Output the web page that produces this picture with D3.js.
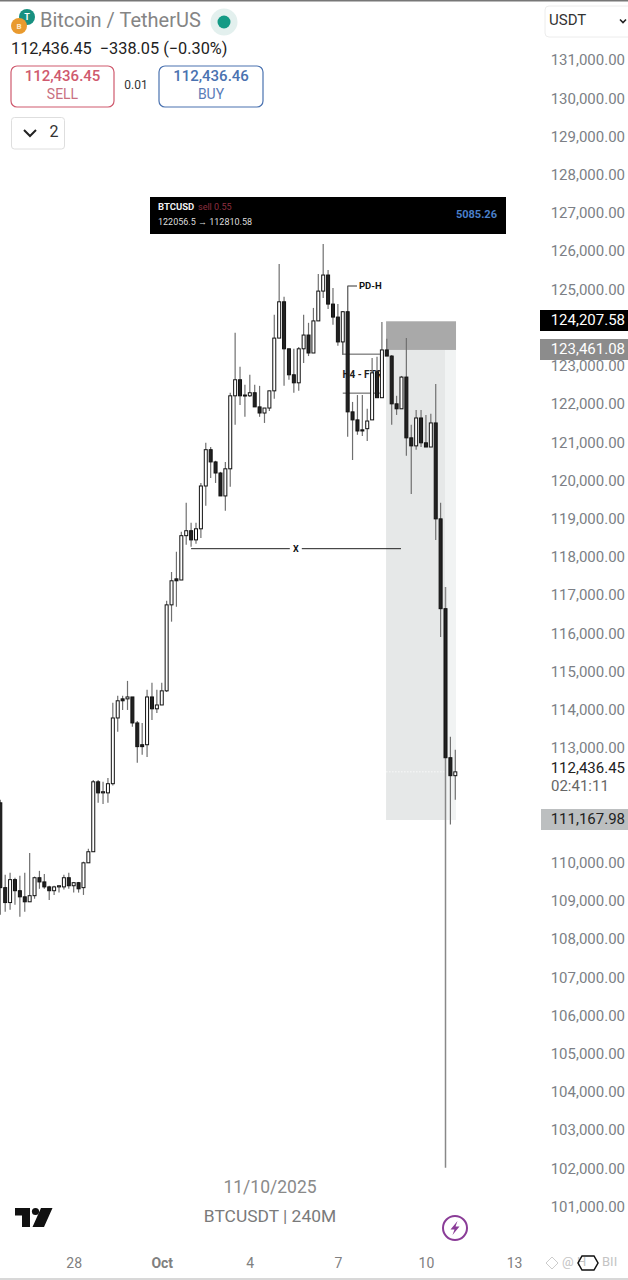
<!DOCTYPE html>
<html><head><meta charset="utf-8">
<script src="https://cdn.jsdelivr.net/npm/d3@7"></script>
<style>html,body{margin:0;padding:0;background:#fff}svg{display:block}text{font-family:Roboto,sans-serif}</style>
</head><body><svg id="c" width="628" height="1280"></svg>
<script>
const opens=[111550,109330,108940,109540,109250,109090,108960,109120,109590,109480,109350,109250,109350,109350,109590,109380,109460,109330,109980,110270,112100,111810,111810,112050,113770,114270,114270,114320,113640,113070,113070,114320,114010,114110,114480,116730,117410,117380,118540,118670,118430,118720,119840,120790,120470,120180,119580,120290,122200,122620,122220,122200,122280,121910,121750,121880,122330,123710,124660,123430,122750,122540,123430,123790,123320,124160,124940,125360,124600,124260,123610,124400,121780,121570,121310,121340,121570,122830,122150,123400,123240,121990,121860,122690,121100,120890,121620,120970,120860,121490,118980,116630,112730,112260];
const highs=[111630,109670,109720,109590,109640,109720,110240,109620,109770,109690,109380,109380,109380,109670,109720,109480,109480,110010,110350,112150,112150,112100,112200,114170,114350,114350,114740,114320,113690,113640,114510,114690,114510,114690,116840,117590,118120,118640,119400,118880,118880,119920,120970,120860,120500,120210,120470,122280,123850,122960,122490,122750,122490,122460,121880,122330,124320,125650,124790,123430,123430,123480,124320,124110,124500,125390,126170,125490,125020,124600,124420,125080,122040,122220,122220,121860,123190,123220,124130,123690,123270,122200,122720,123710,121440,121830,121830,121700,121730,122510,119400,117200,113280,112940];
const lows=[108620,108700,108750,108880,108570,108700,108960,109040,109300,109300,109010,109140,109200,109280,109300,109200,109200,109140,109980,110270,111550,111520,111550,112000,113410,113980,113980,113540,112600,112810,112750,113720,113900,114110,114450,116290,116680,117380,118300,118250,118330,118480,119320,120050,119920,119580,119190,119820,121440,121960,121650,122170,121910,121650,121490,121800,122120,123710,122460,122620,122280,122330,123060,123240,123320,124160,124760,124470,124060,123510,123270,121130,120520,121180,121150,121020,121570,122150,122150,123240,121440,121700,121860,120630,119630,120790,120860,120860,120860,118430,115890,102000,110980,111630];
const closes=[109330,108940,109540,109250,109090,108960,109120,109590,109480,109350,109250,109350,109380,109590,109380,109460,109300,109980,110270,112100,111810,111840,112050,113770,114220,114220,114320,113640,113020,113020,114320,114010,114110,114480,116730,117360,117360,118540,118670,118430,118720,119840,120790,120470,120180,119580,120290,122200,122620,122200,122200,122280,121910,121750,121880,122330,123710,124660,123430,122750,122540,123430,123790,123320,124160,124940,125360,124600,124260,123610,124400,121780,121570,121280,121280,121540,122800,122150,123400,123240,121990,121860,122690,121100,120890,121620,120970,120860,121490,118980,116630,112730,112260,112360];
const hiddenTicks=[111000,112000,124000];
const priceTicks=d3.range(101000,132000,1000).filter(v=>!hiddenTicks.includes(v));
const dateTickIndex=[15,33,51,69,87,105];
const dateTickLabels=["28","Oct","4","7","10","13"];
const zoneTop=124150, zoneEntry=123400, zoneStop=111100, lastPrice=112400, xLevel=118200;
const zoneLabels=["124,207.58","123,461.08","111,167.98"];
const ticker="Bitcoin / TetherUS";
const quote="112,436.45  \u2212338.05 (\u22120.30%)";

const svg=d3.select("#c");
const y=d3.scaleLinear().domain([131000,101000]).range([59.5,1206]);
const x=d3.scaleLinear().domain([0,105]).range([0.3,514]);
const T=(s,px,py,size,fill,anchor,weight)=>svg.append("text").attr("x",px).attr("y",py).attr("font-size",size).attr("fill",fill).attr("text-anchor",anchor||"start").attr("font-weight",weight||400).attr("dominant-baseline","middle").text(s);

// frame lines
svg.append("rect").attr("width",628).attr("height",1.5).attr("fill","#777");
svg.append("rect").attr("y",1278).attr("width",628).attr("height",2).attr("fill","#d8d8d8");

// position zone
const zx0=x(78.85),zx1=x(93.15),zxm=x(90.9);
svg.append("rect").attr("x",zx0).attr("y",y(zoneEntry)).attr("width",zx1-zx0).attr("height",y(zoneStop)-y(zoneEntry)).attr("fill","#f1f3f3");
svg.append("rect").attr("x",zx0).attr("y",y(zoneEntry)).attr("width",zxm-zx0).attr("height",y(zoneStop)-y(zoneEntry)).attr("fill","#e6e8e8");
svg.append("rect").attr("x",zx0).attr("y",y(zoneTop)).attr("width",zx1-zx0).attr("height",y(zoneEntry)-y(zoneTop)).attr("fill","#a9a9a9");
svg.append("line").attr("x1",zx0).attr("x2",zxm).attr("y1",y(lastPrice)+1.5).attr("y2",y(lastPrice)+1.5).attr("stroke","#fff").attr("stroke-opacity",.75).attr("stroke-dasharray","1.5 1.5");

// annotations under candles
const ann="#333";
const L=(a,b,c,d,col)=>svg.append("line").attr("x1",a).attr("y1",b).attr("x2",c).attr("y2",d).attr("stroke",col||ann).attr("stroke-width",1);
L(x(39),y(xLevel),x(81.9),y(xLevel),"#222");
svg.append("rect").attr("x",x(60.4)-6).attr("y",y(xLevel)-6).attr("width",12).attr("height",12).attr("fill","#fff");
T("X",x(60.4),y(xLevel)+.5,9,"#111","middle",700);
T("H4 - FTR",x(74),375,10,"#222","middle",700);
L(x(70),y(123290),x(77.6),y(123290),"#555");
L(x(70),y(122270),x(77.6),y(122270),"#555");
L(x(70),y(124400),x(70),y(123290),"#555");
L(x(71),286,x(71),312,"#333");
L(x(71),286,357,286,"#333");
T("PD-H",359,286.5,9.5,"#111","start",700);

// candles
const data=opens.map((o,i)=>({i,o,h:highs[i],l:lows[i],c:closes[i]}));
const g=svg.append("g");
g.selectAll("line").data(data).join("line")
 .attr("x1",d=>x(d.i)).attr("x2",d=>x(d.i)).attr("y1",d=>y(d.h)).attr("y2",d=>y(d.l))
 .attr("stroke",d=>d.i==91?"#888":"#707070").attr("stroke-width",d=>d.i==91?1.5:1.2);
g.selectAll("rect").data(data).join("rect")
 .attr("x",d=>x(d.i)-1.5).attr("width",3)
 .attr("y",d=>y(Math.max(d.o,d.c))).attr("height",d=>Math.max(1,Math.abs(y(d.o)-y(d.c))))
 .attr("fill",d=>d.c>=d.o?"#fff":"#222").attr("stroke","#111").attr("stroke-width",1);

// banner
svg.append("rect").attr("x",150).attr("y",197).attr("width",356).attr("height",37).attr("fill","#000");
T("BTCUSD",158,207.5,9.5,"#f2f2f2","start",700);
T("sell 0.55",198,207.5,9,"#8e2f3f");
T("122056.5 \u2192 112810.58",158,222.5,9,"#dddddd");
T("5085.26",497,215,11,"#4a7fc8","end",700);

// price axis
const yAxis=d3.axisRight(y).tickValues(priceTicks).tickSize(0).tickFormat(d=>d3.format(",.2f")(d));
const ga=svg.append("g").attr("transform","translate(625,0.6)").call(yAxis);
ga.select(".domain").remove();
ga.selectAll("text").attr("x",0).attr("text-anchor","end").attr("font-size",15).attr("fill","#7c7f86").style("font-family","Roboto,sans-serif");

// date axis
const xAxis=d3.axisBottom(x).tickValues(dateTickIndex).tickSize(0).tickFormat((d,i)=>dateTickLabels[i]);
const gx=svg.append("g").attr("transform","translate(0,1255)").call(xAxis);
gx.select(".domain").remove();
gx.selectAll("text").attr("font-size",14).attr("fill","#808080").attr("font-weight",(d,i)=>dateTickLabels[i]=="Oct"?700:400).style("font-family","Roboto,sans-serif");

// right labels
const lab=(cy,h,x0,fill,s,col)=>{svg.append("rect").attr("x",x0).attr("y",cy-h/2).attr("width",628-x0).attr("height",h).attr("fill",fill);T(s,625,cy+.5,15,col,"end");};
lab(320.5,21,540,"#000",zoneLabels[0],"#fff");
lab(349.5,21,540,"#8c8c8c",zoneLabels[1],"#fff");
T("112,436.45",625,769.5,15,"#222","end");
T("02:41:11",551,787,15,"#666");
lab(819.5,21,541,"#bcbfc0",zoneLabels[2],"#222");

// header
svg.append("circle").attr("cx",27).attr("cy",17).attr("r",8).attr("fill","#179080");
T("T",27,17.5,9,"#fff","middle",700);
svg.append("circle").attr("cx",19).attr("cy",26).attr("r",8).attr("fill","#e99a2e");
T("B",19,26.5,8,"#fde9c8","middle",700);
T(ticker,40,21.5,20,"#858585");
svg.append("circle").attr("cx",224).attr("cy",22).attr("r",13.5).attr("fill","#e3f0ee");
svg.append("circle").attr("cx",224).attr("cy",22).attr("r",6.5).attr("fill","#149a85");
T(quote,11,49.5,16.3,"#222").attr("xml:space","preserve").style("white-space","pre");
const btn=(bx,w,col,txt,price,word)=>{svg.append("rect").attr("x",bx).attr("y",66).attr("width",w).attr("height",41).attr("rx",6).attr("fill","#fff").attr("stroke",col).attr("stroke-width",1.2);
 T(price,bx+w/2,77.5,15,col,"middle",500);T(word,bx+w/2,95.5,14,txt,"middle");};
btn(11,103,"#cf5a6e","#c9707f","112,436.45","SELL");
btn(159,104,"#4a72b0","#5a7cb8","112,436.46","BUY");
T("0.01",136,85.5,12,"#333","middle");
svg.append("rect").attr("x",11.5).attr("y",117.5).attr("width",53).attr("height",31.5).attr("rx",3).attr("fill","#fff").attr("stroke","#dedede");
svg.append("path").attr("d","M24 130 L30 136 L36 130").attr("fill","none").attr("stroke","#222").attr("stroke-width",2);
T("2",54,133,16,"#333","middle");
svg.append("rect").attr("x",545).attr("y",6).attr("width",90).attr("height",31).attr("rx",4).attr("fill","#fff").attr("stroke","#ececec");
T("USDT",549,21.5,15,"#333");
svg.append("path").attr("d","M620 19.5 L623 22.5 L626 19.5").attr("fill","none").attr("stroke","#222").attr("stroke-width",1.6);

// footer
T("11/10/2025",270,1188,17.5,"#8a8a8a","middle");
T("BTCUSDT | 240M",270,1217.5,17.4,"#7a7a7a","middle");
svg.append("path").attr("d","M15 1208 H30 V1227 H22 V1215.5 H15 Z M41 1208 H52.5 L44 1227 H32.5 Z").attr("fill","#111");
svg.append("circle").attr("cx",35.5).attr("cy",1211.5).attr("r",3.6).attr("fill","#111");
svg.append("circle").attr("cx",455).attr("cy",1228).attr("r",12).attr("fill","#fff").attr("stroke","#8a3c97").attr("stroke-width",2);
svg.append("path").attr("d","M457.5 1221 L450.5 1229.5 H454.5 L452.5 1235 L459.5 1226.5 H455.5 Z").attr("fill","#8a3c97");

// watermark
svg.append("path").attr("d","M552 1257 L558 1263 L552 1269 L546 1263 Z").attr("fill","none").attr("stroke","#ccc");
T("@ H",562,1263,13,"#c4c4c4");
svg.append("path").attr("d","M582 1256 H594 L598 1263 L594 1270 H582 L578 1263 Z").attr("fill","none").attr("stroke","#111").attr("stroke-width",1.5);
T("BII",602,1263,13,"#c4c4c4");
</script></body></html>
